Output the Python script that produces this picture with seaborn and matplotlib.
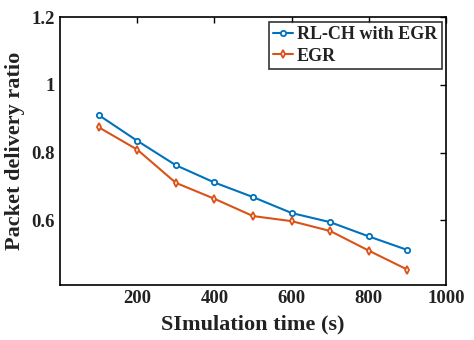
import matplotlib
matplotlib.use("Agg")
import matplotlib.pyplot as plt
import seaborn as sns
import pandas as pd

time_s = [100, 200, 300, 400, 500, 600, 700, 800, 900]
rlch_egr = [0.911, 0.835, 0.763, 0.712, 0.669, 0.622, 0.595, 0.553, 0.513]
egr = [0.875, 0.809, 0.711, 0.664, 0.613, 0.598, 0.569, 0.511, 0.455]
series_names = ["RL-CH with EGR", "EGR"]
x_ticks = [200, 400, 600, 800, 1000]
y_ticks = [0.6, 0.8, 1.0, 1.2]
y_tick_labels = ["0.6", "0.8", "1", "1.2"]

sns.set_style("white")
plt.rcParams['font.family'] = ['Liberation Serif', 'DejaVu Serif']
plt.rcParams['font.weight'] = 'bold'

df = pd.DataFrame({
    "time": time_s * 2,
    "pdr": rlch_egr + egr,
    "series": [series_names[0]] * len(time_s) + [series_names[1]] * len(time_s),
})

fig = plt.figure(figsize=(4.74, 3.4), dpi=100)
ax = fig.add_axes([0.1266, 0.162, 0.8144, 0.788])

colors = {series_names[0]: "#0072BD", series_names[1]: "#D95319"}
sns.lineplot(data=df, x="time", y="pdr", hue="series", style="series",
             markers={series_names[0]: "o", series_names[1]: "d"},
             dashes=False, palette=colors, markersize=3.8, linewidth=1.5,
             ax=ax, legend=False)
for line, name in zip(ax.lines, series_names):
    line.set_markerfacecolor("white")
    line.set_markeredgecolor(colors[name])
    line.set_markeredgewidth(1.3)

ax.set_xlim(0, 1000)
ax.set_ylim(0.41, 1.2)
ax.set_xticks(x_ticks)
ax.set_yticks(y_ticks)
ax.set_yticklabels(y_tick_labels)
ax.tick_params(direction="in", length=4, width=1, top=True, right=True,
               labelsize=13.5, color="black", labelcolor="#222222", pad=4)
for lbl in ax.get_xticklabels() + ax.get_yticklabels():
    lbl.set_fontweight("bold")
for sp in ax.spines.values():
    sp.set_color("black")
    sp.set_linewidth(1.2)
ax.set_xlabel("SImulation time (s)", fontsize=16, fontweight="bold", labelpad=5, color="#222222")
ax.set_ylabel("Packet delivery ratio", fontsize=16, fontweight="bold", labelpad=4, color="#222222")

ax.legend(ax.lines, series_names, loc="upper right", fontsize=13, frameon=True, fancybox=False,
          handlelength=1.1, handletextpad=0.2, borderpad=0.25,
          labelspacing=0.25, borderaxespad=0.25)
leg = ax.get_legend()
leg.get_frame().set_edgecolor("black")
leg.get_frame().set_linewidth(1.2)
for t in leg.get_texts():
    t.set_fontweight("bold")
    t.set_color("#222222")

fig.savefig("out.png", dpi=100)
